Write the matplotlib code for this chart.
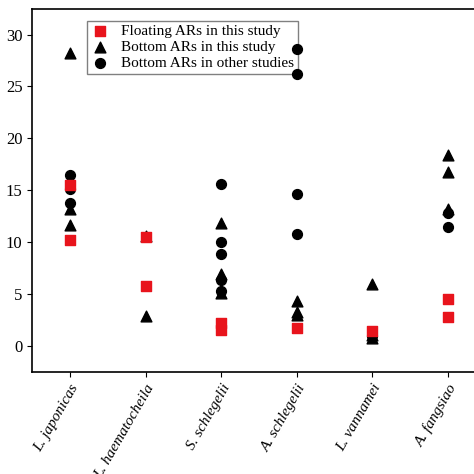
import matplotlib
matplotlib.use("Agg")
import matplotlib.pyplot as plt

plt.rcParams['font.family'] = ['Liberation Serif', 'DejaVu Serif']

categories = ["L. japonicas", "L. haematocheila", "S. schlegelii", "A. schlegelii", "L. vannamei", "A. fangsiao"]
floating = [[15.5, 10.2], [10.5, 5.8], [2.2, 1.6], [1.7], [1.5], [4.5, 2.8]]
bottom_this = [[28.2, 13.2, 11.7], [10.6, 2.9], [11.9, 6.9, 5.1], [4.3, 3.3, 3.0], [6.0, 1.1, 0.8], [18.4, 16.8, 13.2]]
bottom_other = [[16.5, 15.1, 13.8], [], [15.6, 10.0, 8.9, 6.4, 5.3], [28.6, 26.2, 14.6, 10.8], [1.0], [12.8, 11.5]]

fig = plt.figure(figsize=(4.74, 4.74), dpi=100)
ax = fig.add_axes([0.068, 0.215, 0.957, 0.767])

def flat(groups):
    xs, ys = [], []
    for i, g in enumerate(groups):
        xs += [i] * len(g)
        ys += g
    return xs, ys

x, y = flat(floating)
ax.scatter(x, y, marker='s', s=45, color='#e8141c', label='Floating ARs in this study', zorder=3)
x, y = flat(bottom_this)
ax.scatter(x, y, marker='^', s=60, color='black', label='Bottom ARs in this study', zorder=2)
x, y = flat(bottom_other)
ax.scatter(x, y, marker='o', s=50, color='black', label='Bottom ARs in other studies', zorder=2)

ax.set_xlim(-0.5, 5.5)
ax.set_ylim(-2.5, 32.5)
ax.set_yticks([0, 5, 10, 15, 20, 25, 30])
ax.set_xticks(range(len(categories)))
ax.set_xticklabels(categories, rotation=60, ha='right', rotation_mode='anchor', style='italic', fontsize=11)
ax.tick_params(axis='y', labelsize=12)
ax.set_ylabel('Average occurrence rate (%)', fontsize=13, fontweight='bold')
for s in ax.spines.values():
    s.set_linewidth(1.2)
leg = ax.legend(loc='upper left', bbox_to_anchor=(0.12, 0.967), fontsize=11, fancybox=False,
                edgecolor='gray', handletextpad=0.8, borderpad=0.25, labelspacing=0.15, handlelength=1.2,
                borderaxespad=0, framealpha=1)
leg.set_zorder(1)
fig.savefig('out.png', dpi=100)
